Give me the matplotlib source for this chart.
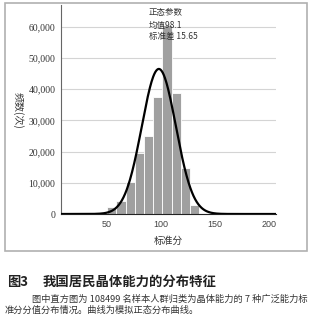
import numpy as np
import matplotlib.pyplot as plt
from matplotlib.patches import Rectangle

plt.rcParams['font.family'] = ['Noto Sans CJK SC', 'DejaVu Sans']

# histogram bins (standard score) and counts
bin_edges = [50.6, 59.1, 67.5, 76.0, 84.4, 92.9, 101.4, 109.8, 118.3, 126.7, 135.2]
counts = [2300, 4200, 10200, 19400, 25000, 37600, 60500, 38700, 14700, 2900]

# fitted normal curve parameters
mu = 98.1
sigma = 15.65
peak = 46500

yticks = [0, 10000, 20000, 30000, 40000, 50000, 60000]
xticks = [50, 100, 150, 200]

W, H = 311, 319
fig = plt.figure(figsize=(W / 100, H / 100), dpi=100)
ax = fig.add_axes([61 / W, 1 - 214 / H, (276 - 61) / W, (214 - 5) / H])

left = np.array(bin_edges[:-1])
widths = np.diff(bin_edges)
ax.bar(left, counts, width=widths, align='edge', color='#a0a0a0',
       edgecolor='white', linewidth=0.6, zorder=2)

xs = np.linspace(8, 206, 400)
ax.plot(xs, peak * np.exp(-(xs - mu) ** 2 / (2 * sigma ** 2)),
        color='black', lw=1.6, zorder=3)

ax.set_xlim(8, 206)
ax.set_ylim(0, 67000)
ax.set_yticks(yticks)
ax.set_yticklabels([f'{v:,}' for v in yticks], family='Liberation Serif',
                   fontsize=7, color='#333333')
ax.set_xticks(xticks)
ax.set_xticklabels([str(v) for v in xticks], family='Liberation Sans',
                   fontsize=6.5, color='#444444')
ax.tick_params(length=0, pad=4)
ax.grid(axis='y', color='#d4d4d4', lw=0.8, zorder=0)
ax.set_axisbelow(True)
for s in ['top', 'right']:
    ax.spines[s].set_visible(False)
ax.spines['left'].set_color('#666666')
ax.spines['left'].set_linewidth(0.8)
ax.spines['bottom'].set_color('#222222')
ax.spines['bottom'].set_linewidth(0.8)

ax.set_xlabel('标准分', fontsize=7, color='#333333', labelpad=5)
fig.text(18 / W, 1 - 110 / H, '频数(次)', rotation=270, fontsize=7.2,
         color='#333333', ha='center', va='center')

# normal parameter box
fig.text(149 / W, 1 - 13 / H, '正态参数', fontsize=6.1, color='#333333', va='center')
fig.text(149 / W, 1 - 25 / H, f'均值{mu}', fontsize=6.1, color='#333333', va='center')
fig.text(149 / W, 1 - 37 / H, f'标准差 {sigma}', fontsize=6.1, color='#333333', va='center')

# outer frame
fig.patches.append(Rectangle((5 / W, 1 - 251 / H), 302 / W, 248 / H,
                             transform=fig.transFigure, fill=False,
                             edgecolor='#b0b0b0', lw=1.2))

# caption
fig.text(7 / W, 1 - 282 / H, '图3', fontsize=9.5, weight='bold',
         color='#222222', va='center')
fig.text(43 / W, 1 - 282 / H, '我国居民晶体能力的分布特征', fontsize=9.6,
         weight='bold', color='#222222', va='center')
fig.text(32 / W, 1 - 299 / H,
         '图中直方图为 108499 名样本人群归类为晶体能力的 7 种广泛能力标',
         fontsize=6.65, color='#333333', va='center')
fig.text(5 / W, 1 - 310 / H, '准分分值分布情况。曲线为模拟正态分布曲线。',
         fontsize=6.65, color='#333333', va='center')

fig.savefig('out.png', dpi=100)
